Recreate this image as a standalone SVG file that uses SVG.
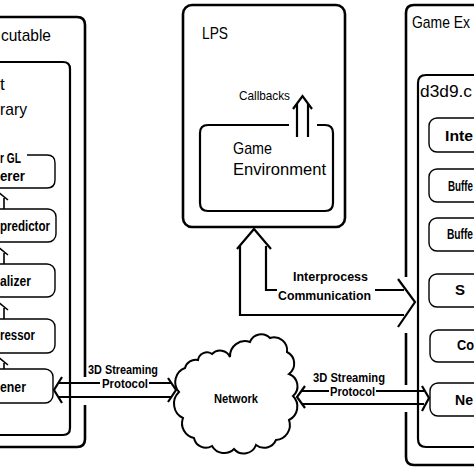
<svg xmlns="http://www.w3.org/2000/svg" width="474" height="474" viewBox="0 0 474 474">
<style>
.outer{fill:none;stroke:#000;stroke-width:2.6;stroke-linejoin:round}
.inner{fill:none;stroke:#000;stroke-width:2.2;stroke-linejoin:round}
.box{fill:#fff;stroke:#000;stroke-width:1.4}
.boxl{fill:none;stroke:#000;stroke-width:1.4}
.conn{fill:none;stroke:#000;stroke-width:2.2;stroke-linejoin:miter}
.thin{fill:none;stroke:#000;stroke-width:1.6}
.cloud{fill:#fff;stroke:#000;stroke-width:2}
text{font-family:"Liberation Sans",Arial,Helvetica,sans-serif;fill:#000}
.b{font-weight:bold}
.t12{font-size:12px}
.t13{font-size:13px}
.t15{font-size:15px}
.t17{font-size:17px}
</style>
<rect x="0" y="0" width="474" height="474" fill="#fff"/>

<g id="client-executable">
  <path class="outer" d="M-10,17 H77 Q85,17 85,25 V377 M85,405 V439 Q85,447 77,447 H-10"/>
  <text class="t17" x="1" y="41" textLength="50" lengthAdjust="spacingAndGlyphs">cutable</text>
</g>

<g id="client-library">
  <path class="inner" d="M-10,62 H63 Q70,62 70,69 V428 Q70,435 63,435 H-10"/>
  <text class="t17" x="0" y="90">t</text>
  <text class="t17" x="0" y="115" textLength="27" lengthAdjust="spacingAndGlyphs">rary</text>
</g>

<g id="gl-renderer">
  <path class="boxl" d="M27,155 H47 Q55,155 55,163 V180 Q55,188 47,188 H-10"/>
  <text class="b t15" x="0" y="163" textLength="21" lengthAdjust="spacingAndGlyphs">r GL</text>
  <text class="b t15" x="0" y="181" textLength="25" lengthAdjust="spacingAndGlyphs">erer</text>
</g>

<g id="predictor">
  <rect class="box" x="-20" y="209" width="76" height="33" rx="8"/>
  <text class="b t15" x="0" y="231" textLength="50" lengthAdjust="spacingAndGlyphs">predictor</text>
</g>

<g id="normalizer">
  <rect class="box" x="-20" y="264" width="75" height="33" rx="8"/>
  <text class="b t15" x="0" y="286" textLength="31" lengthAdjust="spacingAndGlyphs">alizer</text>
</g>

<g id="decompressor">
  <rect class="box" x="-20" y="319" width="75" height="34" rx="8"/>
  <text class="b t15" x="0" y="340" textLength="35" lengthAdjust="spacingAndGlyphs">ressor</text>
</g>

<g id="listener">
  <rect class="box" x="-20" y="369" width="73" height="34" rx="8"/>
  <text class="b t15" x="0" y="392" textLength="26" lengthAdjust="spacingAndGlyphs">ener</text>
</g>

<g id="lps">
  <rect class="outer" x="183" y="5" width="162" height="222" rx="9"/>
  <text class="t17" x="202" y="39" textLength="26" lengthAdjust="spacingAndGlyphs">LPS</text>
</g>

<g id="game-environment">
  <path class="inner" d="M317,125 H325 Q333,125 333,133 V203 Q333,211 325,211 H208 Q200,211 200,203 V133 Q200,125 208,125 H289"/>
  <text class="t17" x="233" y="154" textLength="39" lengthAdjust="spacingAndGlyphs">Game</text>
  <text class="t17" x="233" y="175" textLength="93" lengthAdjust="spacingAndGlyphs">Environment</text>
</g>

<g id="network">
  <path class="cloud" d="M179,392 A15,15 0 0 1 185,368 A11,11 0 0 1 198,360 A9,9 0 0 1 212,354 A11,11 0 0 1 230,357 A15,15 0 0 1 250,342 A12,12 0 0 1 270,338 A13,13 0 0 1 287,352 A13,13 0 0 1 289,374 A13,13 0 0 1 293,396 A15,15 0 0 1 289,420 A15,15 0 0 1 276,440 A13,13 0 0 1 256,445 A13,13 0 0 1 234,449 A14,14 0 0 1 212,446 A12,12 0 0 1 194,438 A15,15 0 0 1 183,418 A16,16 0 0 1 179,392 Z"/>
  <text class="b t13" x="214" y="403" textLength="44" lengthAdjust="spacingAndGlyphs">Network</text>
</g>

<g id="game-executable">
  <path class="outer" d="M484,5 H414 Q406,5 406,13 V277 M406,333 V385 M406,412 V457 Q406,465 414,465 H484"/>
  <text class="t17" x="412" y="28" textLength="58" lengthAdjust="spacingAndGlyphs">Game Ex</text>
</g>

<g id="d3d9">
  <path class="inner" d="M484,75 H426 Q418,75 418,83 V439 Q418,447 426,447 H484"/>
  <text class="t17" x="420" y="97" textLength="52" lengthAdjust="spacingAndGlyphs">d3d9.c</text>
</g>

<g id="interceptor">
  <rect class="box" x="429" y="118" width="70" height="34" rx="8"/>
  <text class="b t15" x="445" y="141" textLength="28" lengthAdjust="spacingAndGlyphs">Inte</text>
</g>
<g id="buffer1">
  <rect class="box" x="429" y="169" width="70" height="33" rx="8"/>
  <text class="b t15" x="448" y="191" textLength="25" lengthAdjust="spacingAndGlyphs">Buffe</text>
</g>
<g id="buffer2">
  <rect class="box" x="429" y="218" width="70" height="33" rx="8"/>
  <text class="b t15" x="447" y="239" textLength="26" lengthAdjust="spacingAndGlyphs">Buffe</text>
</g>
<g id="s-node">
  <rect class="box" x="429" y="274" width="70" height="33" rx="8"/>
  <text class="b t15" x="455" y="295">S</text>
</g>
<g id="co-node">
  <rect class="box" x="430" y="330" width="70" height="32" rx="8"/>
  <text class="b t15" x="457" y="350" textLength="17" lengthAdjust="spacingAndGlyphs">Co</text>
</g>
<g id="ne-node">
  <rect class="box" x="430" y="383" width="70" height="33" rx="8"/>
  <text class="b t15" x="455" y="405" textLength="18" lengthAdjust="spacingAndGlyphs">Ne</text>
</g>

<g id="connectors">
  <path class="thin" d="M-5,209 V198 M4,209 V198 M-9,200 L-0.5,193 L8,200"/>
  <path class="thin" d="M-5,264 V253 M4,264 V253 M-9,255 L-0.5,248 L8,255"/>
  <path class="thin" d="M-5,319 V308 M4,319 V308 M-9,310 L-0.5,303 L8,310"/>
  <path class="thin" d="M-5,369 V363 M4,369 V363 M-9,365 L-0.5,358 L8,365"/>

  <path class="conn" d="M297,137 V104 M308,137 V104 M293,109 L302.5,96 L312,109"/>
  <text class="t13" x="239" y="100" textLength="51" lengthAdjust="spacingAndGlyphs">Callbacks</text>

  <path class="conn" d="M237,249 L254,229 L271,249"/>
  <path class="conn" d="M240,246 V315 H404"/>
  <path class="conn" d="M266,246 V290 H277 M375,290 H404"/>
  <path class="conn" d="M398,279 L415,302 L398,327"/>
  <text class="b t13" x="293" y="281" textLength="75" lengthAdjust="spacingAndGlyphs">Interprocess</text>
  <text class="b t13" x="278" y="300" textLength="93" lengthAdjust="spacingAndGlyphs">Communication</text>

  <path class="conn" d="M62,377 L54,390 L62,403"/>
  <path class="conn" d="M168,378 L176,390 L168,402"/>
  <path class="conn" d="M59,383 H100 M149,383 H171 M59,397 H171"/>
  <text class="b t12" x="88" y="374" textLength="70" lengthAdjust="spacingAndGlyphs">3D Streaming</text>
  <text class="b t12" x="102" y="388" textLength="46" lengthAdjust="spacingAndGlyphs">Protocol</text>

  <path class="conn" d="M305,386 L297,397 L305,408"/>
  <path class="conn" d="M422,386 L429,398 L422,411"/>
  <path class="conn" d="M302,391 H329 M376,391 H424 M302,404 H424"/>
  <text class="b t12" x="313" y="382" textLength="72" lengthAdjust="spacingAndGlyphs">3D Streaming</text>
  <text class="b t12" x="330" y="396" textLength="45" lengthAdjust="spacingAndGlyphs">Protocol</text>
</g>
</svg>
